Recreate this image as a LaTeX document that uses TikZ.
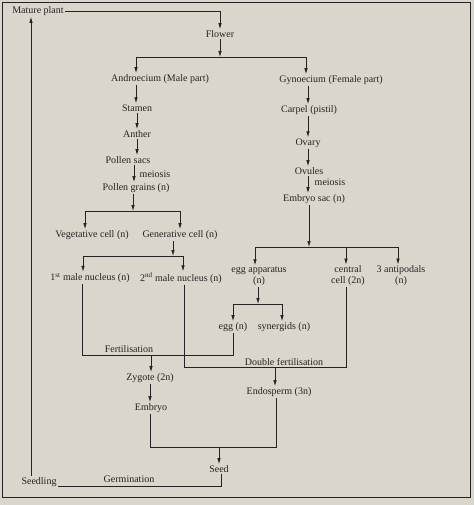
\documentclass[tikz,border=0pt]{standalone}
\usepackage{fontspec}
\setmainfont{Liberation Serif}
\usetikzlibrary{arrows.meta}
\definecolor{paper}{RGB}{218,214,203}
\definecolor{ink}{RGB}{35,35,35}

\begin{document}
\begin{tikzpicture}[x=1pt,y=-1pt,line width=0.7pt,color=ink,
    arr/.style={-{Latex[length=6pt,width=3.5pt]}}]
\fill[paper] (0,0) rectangle (474,505);
\useasboundingbox (0,0) rectangle (474,505);
\draw[line width=1pt] (2,3) rectangle (470,497);
\begin{scope}[every node/.style={inner sep=1pt,align=center,font=\fontsize{10}{11}\selectfont}]
    \node (mp) at (38,11) {Mature plant};
    \node (fl) at (220,34) {Flower};
    \node (and) at (160,79) {Androecium (Male part)};
    \node (gyn) at (331,80) {Gynoecium (Female part)};
    \node (sta) at (137,108) {Stamen};
    \node (car) at (309,110) {Carpel (pistil)};
    \node (ant) at (137,134) {Anther};
    \node (ova) at (308,143) {Ovary};
    \node (ps) at (128,160) {Pollen sacs};
    \node (ovu) at (309,171) {Ovules};
    \node (pg) at (136,188) {Pollen grains (n)};
    \node (es) at (314,199) {Embryo sac (n)};
    \node (veg) at (92,235) {Vegetative cell (n)};
    \node (gen) at (180,235) {Generative cell (n)};
    \node (mn1) at (90,278) {1\textsuperscript{st} male nucleus (n)};
    \node (mn2) at (181,278) {2\textsuperscript{nd} male nucleus (n)};
    \node (ea) at (259,276) {egg apparatus\\(n)};
    \node (cc) at (348,276) {central\\cell (2n)};
    \node (ap) at (401,276) {3 antipodals\\(n)};
    \node (egg) at (233,327) {egg (n)};
    \node (syn) at (284,327) {synergids (n)};
    \node (zyg) at (150,378) {Zygote (2n)};
    \node (end) at (279,392) {Endosperm (3n)};
    \node (emb) at (151,408) {Embryo};
    \node (seed) at (219,469) {Seed};
    \node (sdl) at (39,482) {Seedling};
    % labels on the lines
    \node (me1) at (155,174) {meiosis};
    \node (me2) at (330,182) {meiosis};
    \node (fer) at (129,349) {Fertilisation};
    \node (dfe) at (284,362) {Double fertilisation};
    \node (ger) at (129,479) {Germination};
\end{scope}
% columns and junctions
\coordinate (cL) at (134,0);
\coordinate (cR) at (308,0);
\coordinate (cv) at (31,0);
\coordinate (j1) at (220,57);  \coordinate (j1l) at (136,57);  \coordinate (j1r) at (306,57);
\coordinate (j2) at (133,211); \coordinate (j2l) at (85,211);  \coordinate (j2r) at (180,211);
\coordinate (j3) at (173,256); \coordinate (j3l) at (83,256);  \coordinate (j3r) at (183,256);
\coordinate (j4) at (309,247); \coordinate (j4l) at (255,247); \coordinate (j4m) at (346,247); \coordinate (j4r) at (398,247);
\coordinate (j5) at (258,304); \coordinate (j5l) at (233,304); \coordinate (j5r) at (282,304);
\coordinate (f1) at (151,355); \coordinate (f1l) at (82,355);  \coordinate (f1r) at (233,355);
\coordinate (f2) at (275,367); \coordinate (f2l) at (184,367); \coordinate (f2r) at (346,367);
\coordinate (s1) at (219,447); \coordinate (s1l) at (150,447); \coordinate (s1r) at (276,447);
\coordinate (g1) at (221,486); \coordinate (g2) at (58,486);

\draw[arr] (mp.east) -- (mp.east -| fl) -- (fl.north);
\draw[arr] (fl) -- (j1);
\draw (j1l) -- (j1r);
\draw[arr] (j1l) -- (j1l |- and.north);
\draw[arr] (j1r) -- (j1r |- gyn.north);

% male side
\draw[arr] (j1l |- and.south) -- (j1l |- sta.north);
\draw[arr] (sta) -- (ant);
\draw[arr] (ant) -- (ant |- ps.north);
\draw[arr] (cL |- ps.south) -- (cL |- pg.north);
\draw[arr] (j2 |- pg.south) -- (j2);
\draw (j2l) -- (j2r);
\draw[arr] (j2l) -- (j2l |- veg.north);
\draw[arr] (j2r) -- (j2r |- gen.north);
\draw[arr] (j3 |- gen.south) -- (j3);
\draw (j3l) -- (j3r);
\draw[arr] (j3l) -- (j3l |- mn1.north);
\draw[arr] (j3r) -- (j3r |- mn2.north);

% female side
\draw[arr] (cR |- gyn.south) -- (cR |- car.north);
\draw[arr] (cR |- car.south) -- (cR |- ova.north);
\draw[arr] (cR |- ova.south) -- (cR |- ovu.north);
\draw[arr] (cR |- ovu.south) -- (cR |- es.north);
\draw[arr] (j4 |- es.south) -- (j4);
\draw (j4l) -- (j4r);
\draw[arr] (j4l) -- (j4l |- ea.north);
\draw[arr] (j4m) -- (j4m |- cc.north);
\draw[arr] (j4r) -- (j4r |- ap.north);
\draw[arr] (j5 |- ea.south) -- (j5);
\draw (j5l) -- (j5r);
\draw[arr] (j5l) -- (j5l |- egg.north);
\draw[arr] (j5r) -- (j5r |- syn.north);

% fertilisation
\draw (f1l |- mn1.south) -- (f1l) -- (f1r) -- (f1r |- egg.south);
\draw[arr] (f1) -- (f1 |- zyg.north);
\draw (f2l |- mn2.south) -- (f2l) -- (f2r) -- (f2r |- cc.south);
\draw[arr] (f2) -- (f2 |- end.north);
\draw[arr] (zyg) -- (zyg |- emb.north);
\draw (s1l |- emb.south) -- (s1l) -- (s1r) -- (s1r |- end.south);
\draw[arr] (s1) -- (s1 |- seed.north);
\draw (g1 |- seed.south) -- (g1) -- (g2);
\draw[arr] (cv |- sdl.north) -- (cv |- mp.south);
\end{tikzpicture}
\end{document}
